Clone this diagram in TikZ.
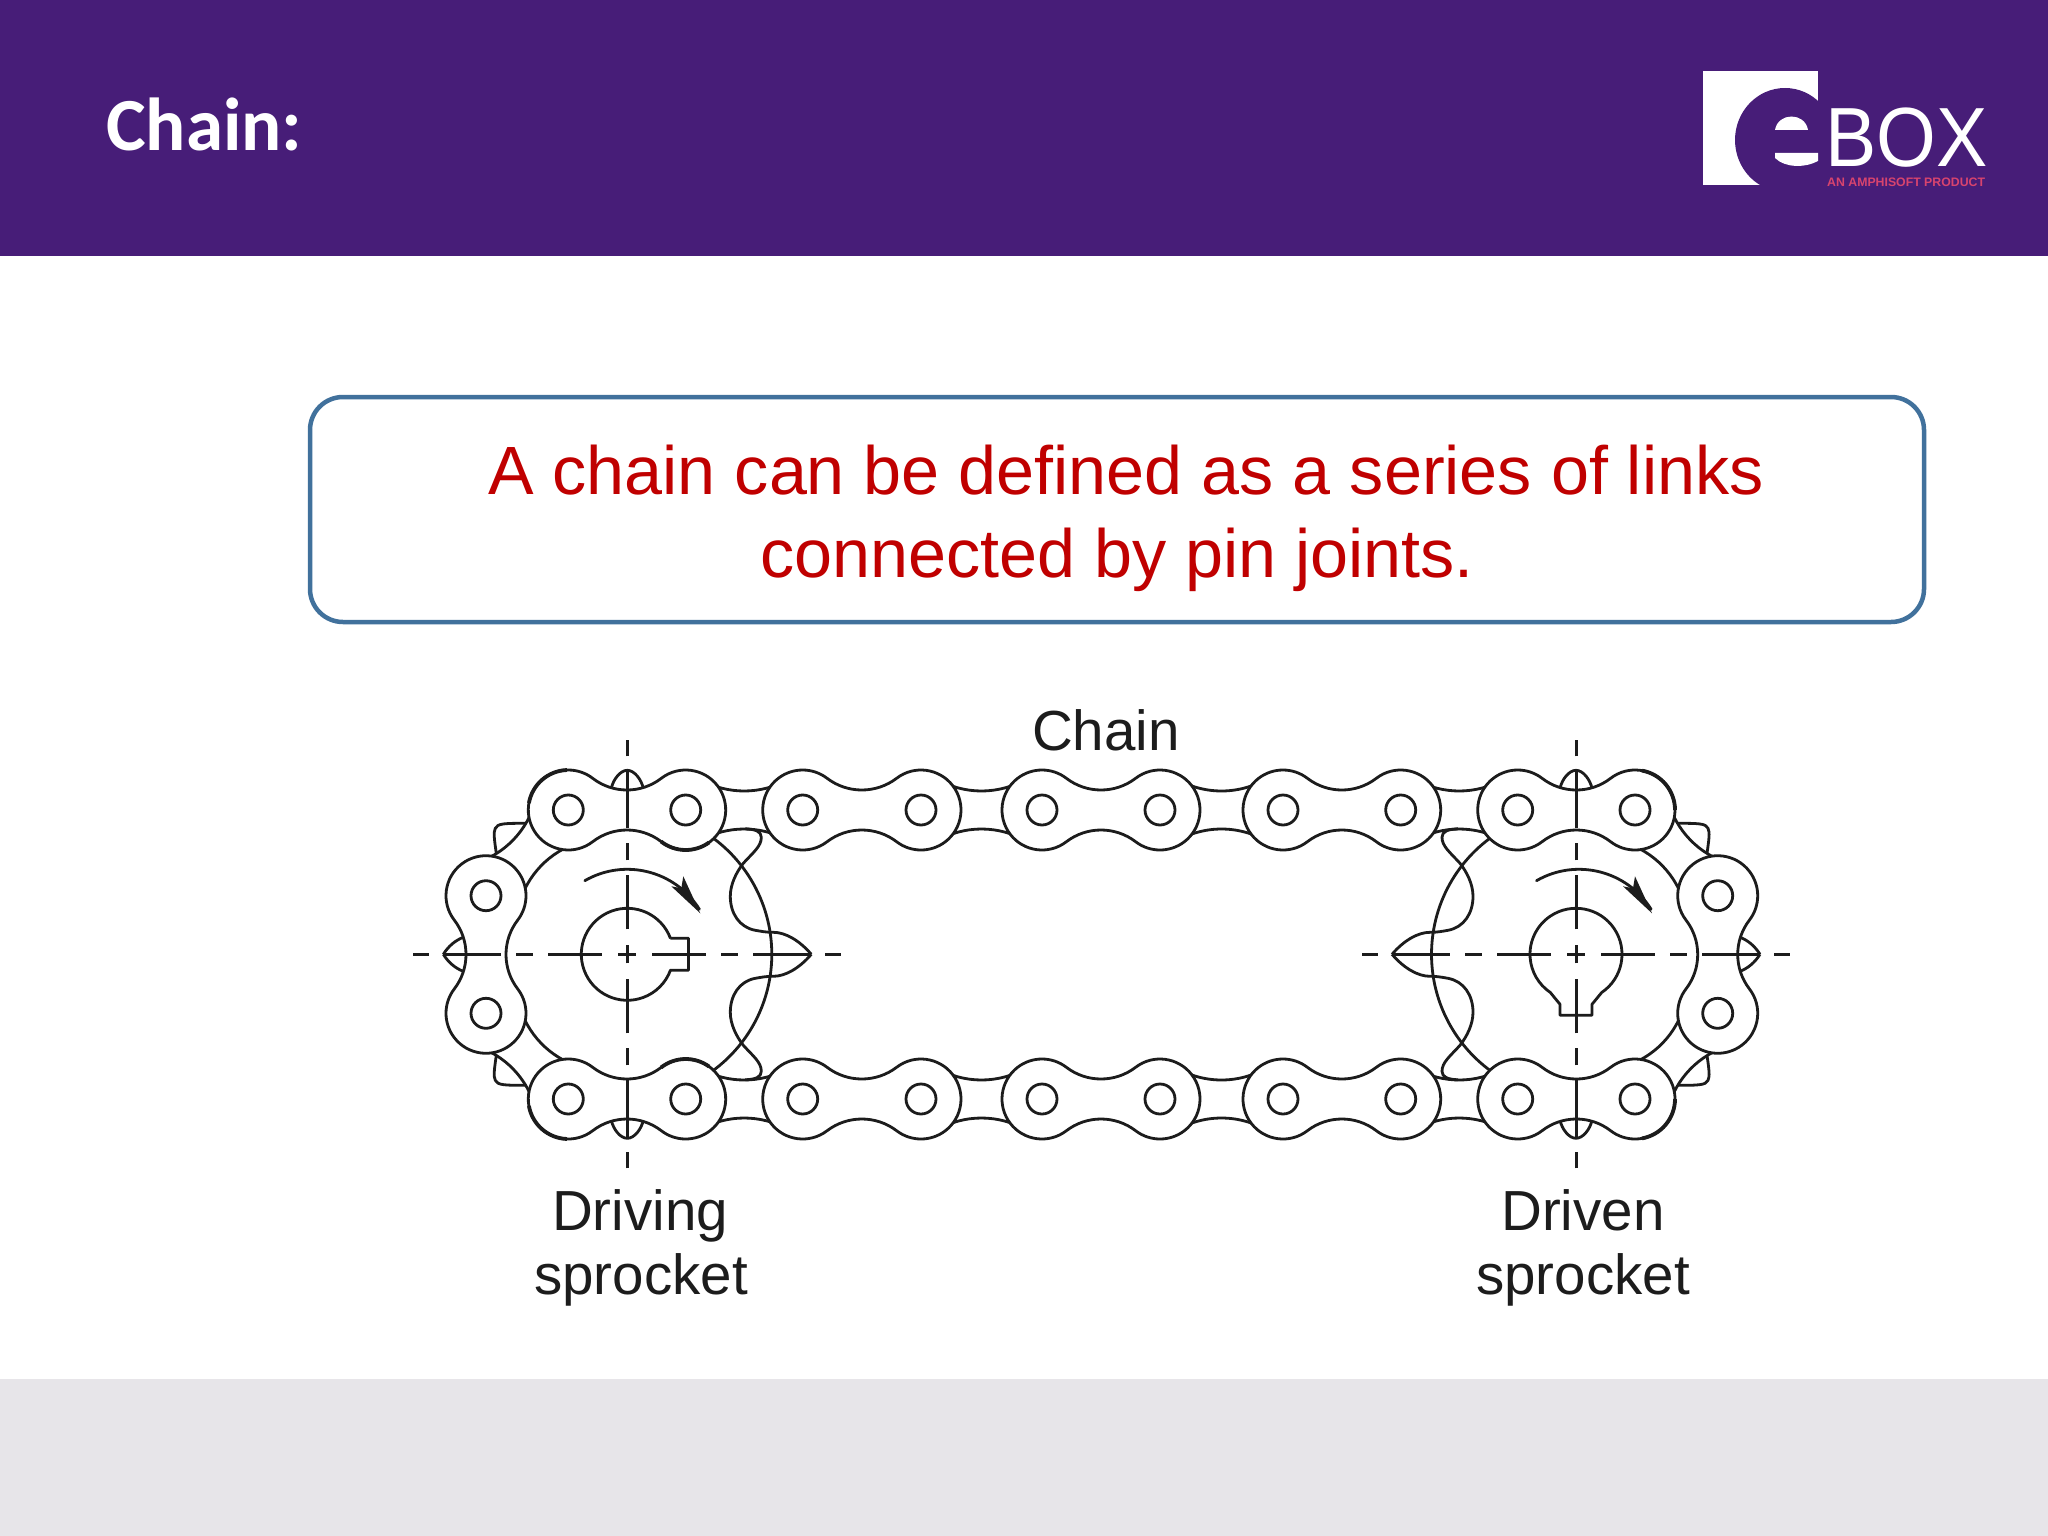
\documentclass[tikz,border=0pt]{standalone}
\usepackage{fontspec}
\setmainfont{Liberation Sans}
\newfontfamily\titlefont{Carlito}
\definecolor{headpurple}{HTML}{471D78}
\definecolor{footgray}{HTML}{E7E5E9}
\definecolor{boxblue}{HTML}{41719C}
\definecolor{redtext}{HTML}{C00000}
\definecolor{ink}{HTML}{1C1C1C}
\definecolor{logopink}{HTML}{D8446E}
\newcommand\fsz[1]{\fontsize{#1}{#1}\selectfont}
\newcommand\chainlnk[4]{%
  \pgfmathsetmacro\mx{(#1+#3)/2}\pgfmathsetmacro\my{(#2+#4)/2}%
  \pgfmathsetmacro\ang{atan2(#4-#2,#3-#1)}%
  \pgfmathsetmacro\aa{veclen(#3-#1,#4-#2)/2}%
  \pgfmathsetmacro\rr{(\aa*\aa+400-1600)/40}%
  \pgfmathsetmacro\cc{\rr+20}%
  \pgfmathsetmacro\ph{atan2(\cc,\aa)}%
  \pgfmathsetmacro\tx{\aa-40*cos(\ph)}%
  \pgfmathsetmacro\ty{40*sin(\ph)}%
  \begin{scope}[shift={(\mx,\my)},rotate=\ang]
    \draw[ink line,fill=white] (-\tx,\ty)
      arc[start angle=-180+\ph,end angle=-\ph,radius=\rr]
      arc[start angle=180-\ph,end angle=-180+\ph,radius=40]
      arc[start angle=\ph,end angle=180-\ph,radius=\rr]
      arc[start angle=-\ph,end angle=-360+\ph,radius=40] -- cycle;
  \end{scope}}
\newcommand\innerlnk[4]{%
  \pgfmathsetmacro\mx{(#1+#3)/2}\pgfmathsetmacro\my{(#2+#4)/2}%
  \pgfmathsetmacro\ang{atan2(#4-#2,#3-#1)}%
  \pgfmathsetmacro\aa{veclen(#3-#1,#4-#2)/2}%
  \pgfmathsetmacro\th{asin((\aa-15)/90)}%
  \begin{scope}[shift={(\mx,\my)},rotate=\ang]
    \draw[ink line] (0,109) ++(-90-\th:90) arc[start angle=-90-\th,end angle=-90+\th,radius=90];
    \draw[ink line] (0,-109) ++(90-\th:90) arc[start angle=90-\th,end angle=90+\th,radius=90];
  \end{scope}}
\newcommand\chainpin[2]{\draw[ink line,fill=white] (#1,#2) circle[radius=15];}
\newcommand\heavyarc[4]{\draw[ink,line width=3.8pt] (#1,#2) ++(#3:40) arc[start angle=#3,end angle=#4,radius=40];}
\tikzset{
  ink line/.style={draw=ink,line width=2.8pt,line join=round},
  lab/.style={anchor=base,text=ink,inner sep=0pt,outer sep=0pt,font=\fsz{56.5}}
}
\begin{document}
\begin{tikzpicture}[x=1pt,y=1pt]
\useasboundingbox (0,-1536) rectangle (2048,0);
\fill[white] (0,-1536) rectangle (2048,0);
\fill[headpurple] (0,-256) rectangle (2048,0);
\fill[footgray] (0,-1536) rectangle (2048,-1379);
\node[anchor=base west,inner sep=0pt,text=white,font=\titlefont\bfseries\fsz{75}] (title) at (106,-150) {Chain:};
% logo
\fill[white] (1703,-185) rectangle (1818,-71);
\fill[headpurple] (1785,-140) ellipse[x radius=50,y radius=52];
\fill[headpurple] (1785,-192) rectangle (1820,-140);
\fill[white] (1775,-130) .. controls (1778,-112) and (1805,-112) .. (1808,-130) -- cycle;
\fill[white] (1775,-153) -- (1818,-153) -- (1818,-161) .. controls (1805,-168) and (1785,-168) .. (1775,-158) -- cycle;
\node[anchor=base west,inner sep=0pt,text=white] (boxword) at (1825,-166) {\scalebox{0.915}[1]{\fsz{84}BOX}};
\node[anchor=base west,inner sep=0pt,text=logopink,font=\bfseries\fsz{12.3}] (tagline) at (1827,-186) {AN AMPHISOFT PRODUCT};
% callout
\draw[boxblue,line width=4.5pt,rounded corners=33pt,fill=white] (310,-397) rectangle (1924,-622);
\node[anchor=base,inner sep=0pt,text=redtext,font=\fsz{68.3}] (line1) at (1126,-494) {A chain can be defined as a series of links};
\node[anchor=base,inner sep=0pt,text=redtext,font=\fsz{68.3}] (line2) at (1117,-577) {connected by pin joints.};
% rear teeth
\foreach \cx/\sx in {627.3/1,1576/-1}{
\begin{scope}[shift={(\cx,-954.3)},xscale=\sx]
  \foreach \sy in {1,-1}{
    \begin{scope}[yscale=\sy]
      \draw[ink line] (-16,166) .. controls (-14,175) and (-7,184) .. (0,184) .. controls (7,184) and (14,175) .. (16,166);
      \draw[ink line] (-131,101) .. controls (-133,115) and (-134,122) .. (-132,126) .. controls (-130,131) and (-122,131) .. (-101,131);
      \draw[ink line] (-164,17) .. controls (-172,14) and (-179,8) .. (-184,0);
    \end{scope}}
\end{scope}}
% inner links
\innerlnk{685.7}{-810}{802.7}{-810}
\innerlnk{921}{-810}{1042}{-810}
\innerlnk{1160}{-810}{1283}{-810}
\innerlnk{1400.7}{-810}{1517.7}{-810}
\innerlnk{685.7}{-1099}{802.7}{-1099}
\innerlnk{921}{-1099}{1042}{-1099}
\innerlnk{1160}{-1099}{1283}{-1099}
\innerlnk{1400.7}{-1099}{1517.7}{-1099}
\innerlnk{568.3}{-810}{486}{-895.7}
\innerlnk{486}{-1013.3}{568.3}{-1099}
\innerlnk{1635}{-810}{1717.7}{-895.7}
\innerlnk{1717.7}{-1013.3}{1635}{-1099}
% outer links
\foreach \xa/\xb in {568.3/685.7,802.7/921,1042/1160,1283/1400.7,1517.7/1635}{
  \chainlnk{\xa}{-810}{\xb}{-810}
  \chainlnk{\xa}{-1099}{\xb}{-1099}
  \chainpin{\xa}{-810}\chainpin{\xb}{-810}
  \chainpin{\xa}{-1099}\chainpin{\xb}{-1099}
}
\chainlnk{486}{-895.7}{486}{-1013.3}
\chainlnk{1717.7}{-895.7}{1717.7}{-1013.3}
\chainpin{486}{-895.7}\chainpin{486}{-1013.3}
\chainpin{1717.7}{-895.7}\chainpin{1717.7}{-1013.3}
% heavier strokes of the worn print
\heavyarc{685.7}{-810}{232}{306}
\heavyarc{685.7}{-1099}{54}{128}
\heavyarc{568.3}{-810}{92}{170}
\heavyarc{568.3}{-1099}{190}{268}
\heavyarc{1635}{-810}{0}{80}
\heavyarc{1635}{-1099}{-80}{0}
% sprocket front
\foreach \cx/\sx in {627.3/1,1576/-1}{
\begin{scope}[shift={(\cx,-954.3)},xscale=\sx]
  \draw[ink line] (53.5:144.5) arc[start angle=53.5,end angle=-53.5,radius=144.5];
  \foreach \sy in {1,-1}{
    \begin{scope}[yscale=\sy]
      \draw[ink line] (184,0) .. controls (172,14) and (158,22) .. (146,22)
        .. controls (138,22) and (134,23) .. (128,24)
        .. controls (112,27) and (103,41) .. (103,58)
        .. controls (103,70) and (109,82) .. (116,91)
        .. controls (126,102) and (134,108) .. (134,117)
        .. controls (134,123) and (128,125) .. (118,125.5);
    \end{scope}}
\end{scope}}
% hubs
\draw[ink line] (627.3,-954.3) ++(20.3:46) arc[start angle=20.3,end angle=339.7,radius=46] -- ++(18,0) -- ++(0,32) -- ++(-18,0);
\draw[ink line] (1576,-954.3) ++(-56:46) arc[start angle=-56,end angle=236,radius=46] -- (1560,-1004.3) -- (1560,-1015.3) -- (1592,-1015.3) -- (1592,-1004.3) -- cycle;
% arrows and centre lines
\foreach \cx/\ax in {627.3/0,1576/3}{
\begin{scope}[shift={(\cx,-954.3)}]
  \foreach \a/\b in {-214/-198,-184/-126,-111/-94,-79/-25,-9/9,25/79,94/111,126/184,198/214}{
    \draw[ink,line width=3pt] (\a,0) -- (\b,0);
    \draw[ink,line width=3pt] (0,\a) -- (0,\b);
  }
  \begin{scope}[xshift=\ax]
    \draw[ink line,line cap=round] (120:85) arc[start angle=120,end angle=32,radius=85];
    \fill[ink] (73,41) -- (56,78) -- (54,66) -- (44,68) -- cycle;
  \end{scope}
\end{scope}}
\node[lab] (chainlab) at (1106,-750) {Chain};
\node[lab] (drivinga) at (640,-1230) {Driving};
\node[lab] (drivingb) at (641,-1294) {sprocket};
\node[lab] (drivena) at (1583,-1230) {Driven};
\node[lab] (drivenb) at (1583,-1294) {sprocket};
\end{tikzpicture}
\end{document}
